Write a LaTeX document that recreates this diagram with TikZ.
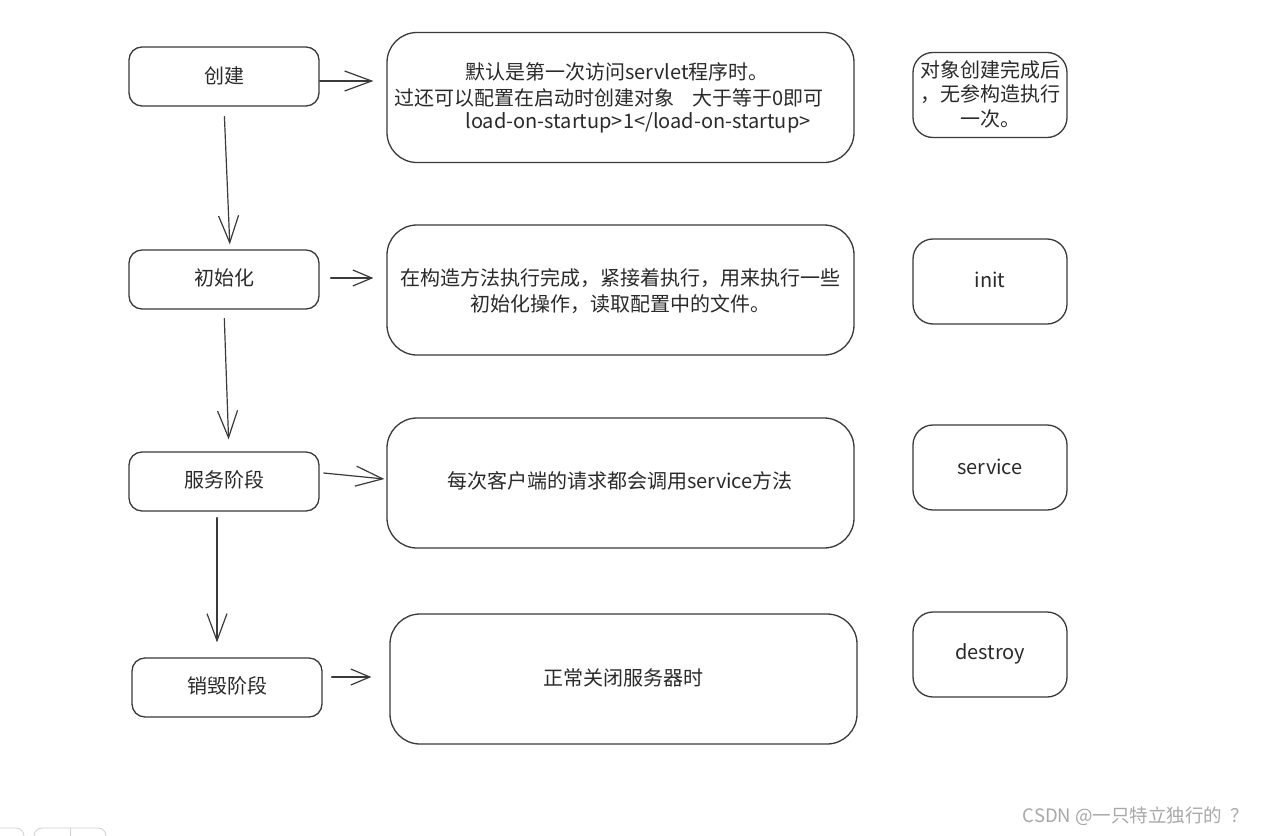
\documentclass[tikz,border=0pt]{standalone}
\usepackage{fontspec}
\setmainfont{Noto Sans CJK SC}
\usetikzlibrary{arrows.meta}
\definecolor{edge}{HTML}{3A3A3A}
\definecolor{txt}{HTML}{2A2A2A}
\definecolor{ui}{HTML}{CFCFCF}
\definecolor{wm}{HTML}{A8A8A8}
\tikzset{
  box/.style={draw=edge, line width=1.3pt, fill=white, inner sep=0pt},
  lbox/.style={box, minimum width=190pt, minimum height=59pt, rounded corners=13pt},
  mbox/.style={box, minimum width=467pt, minimum height=130pt, rounded corners=30pt},
  rbox/.style={box, minimum width=154pt, minimum height=85pt, rounded corners=20pt},
  lbl/.style={text=txt, font=\fontsize{20}{26.5}\selectfont, inner sep=0pt, align=center},
  flow/.style={draw=edge, line width=1.2pt, line cap=round, line join=round},
  bigtip/.style={-{Straight Barb[length=27pt,width=20pt,line width=1.2pt]}},
  smalltip/.style={-{Straight Barb[length=19pt,width=16pt,line width=1.2pt]}},
}
\begin{document}
\begin{tikzpicture}[x=1pt,y=-1pt]
\useasboundingbox (0,0) rectangle (1268,835);
\fill[white] (0,0) rectangle (1268,835);

% left column
\node[lbox] (c1) at (224,76.5) {};
\node[lbox] (c2) at (224,279.5) {};
\node[lbox] (c3) at (224,481.5) {};
\node[lbox] (c4) at (227,687.5) {};
\node[lbl] (c1t) at (224,76) {创建};
\node[lbl] (c2t) at (224,278) {初始化};
\node[lbl] (c3t) at (224,480) {服务阶段};
\node[lbl] (c4t) at (227,686) {销毁阶段};

% middle column
\node[mbox] (m1) at (620.5,97.5) {};
\node[mbox] (m2) at (620.5,290) {};
\node[mbox] (m3) at (620.5,483) {};
\node[mbox] (m4) at (623.5,679) {};
\node[lbl] (m1a) at (617,72) {默认是第一次访问servlet程序时。};
\node[lbl] (m1b) at (609,98) {过还可以配置在启动时创建对象\hspace{0.9em}大于等于0即可};
\node[lbl] (m1c) at (638,123) {load-on-startup>1</load-on-startup>};
\node[lbl] (m2t) at (620,291) {在构造方法执行完成，紧接着执行，用来执行一些\\初始化操作，读取配置中的文件。};
\node[lbl] (m3t) at (620,481) {每次客户端的请求都会调用service方法};
\node[lbl] (m4t) at (623,678) {正常关闭服务器时};

% right column
\node[rbox] (r1) at (990,95) {};
\node[rbox] (r2) at (990,281.5) {};
\node[rbox] (r3) at (990,467.5) {};
\node[rbox] (r4) at (990,654.5) {};
\node[lbl, font=\fontsize{20}{24.5}\selectfont] (r1t) at (990,94) {对象创建完成后\\，无参构造执行\\一次。};
\node[lbl] (r2t) at (990,280) {init};
\node[lbl] (r3t) at (990,467) {service};
\node[lbl] (r4t) at (990,654) {destroy};

% horizontal connectors
\coordinate (h1) at ([yshift=-4.5pt]c1.east);
\draw[flow, bigtip, shorten >=13pt] (h1) -- (h1 -| m1.west);
\coordinate (h2) at ([xshift=11pt,yshift=1.5pt]c2.east);
\draw[flow, smalltip, shorten >=13pt] (h2) -- (h2 -| m2.west);
\coordinate (h3) at ([xshift=4pt,yshift=8.5pt]c3.east);
\coordinate (h3e) at ([xshift=-2pt,yshift=4pt]m3.west);
\draw[flow, bigtip] (h3) -- (h3e);
\coordinate (h4) at ([xshift=9pt,yshift=10.5pt]c4.east);
\draw[flow, smalltip, shorten >=18pt] (h4) -- (h4 -| m4.west);

% vertical connectors
\draw[flow, bigtip, shorten <=10pt, shorten >=5pt] (c1.south) -- ([xshift=6pt]c2.north);
\draw[flow, bigtip, shorten <=9pt, shorten >=12pt] (c2.south) -- ([xshift=5pt]c3.north);
\coordinate (v3) at ([xshift=-7pt,yshift=-6pt]c3.south);
\draw[flow, bigtip, shorten >=15pt] (v3) -- (v3 |- c4.north);

% watermark
\node[text=wm, font=\fontsize{18.5}{20}\selectfont, inner sep=0pt] (wmk) at (1136,816) {CSDN @一只特立独行的\hspace{0.45em}？};

% UI remnants at bottom-left
\begin{scope}
\clip (0,0) rectangle (1268,835);
\draw[ui, line width=0.8pt, rounded corners=8pt] (-20,828) rectangle (24,850);
\draw[ui, line width=0.8pt, rounded corners=8pt] (34,828) rectangle (106,850);
\draw[ui, line width=0.8pt] (70,828) -- (70,840);
\end{scope}
\end{tikzpicture}
\end{document}
